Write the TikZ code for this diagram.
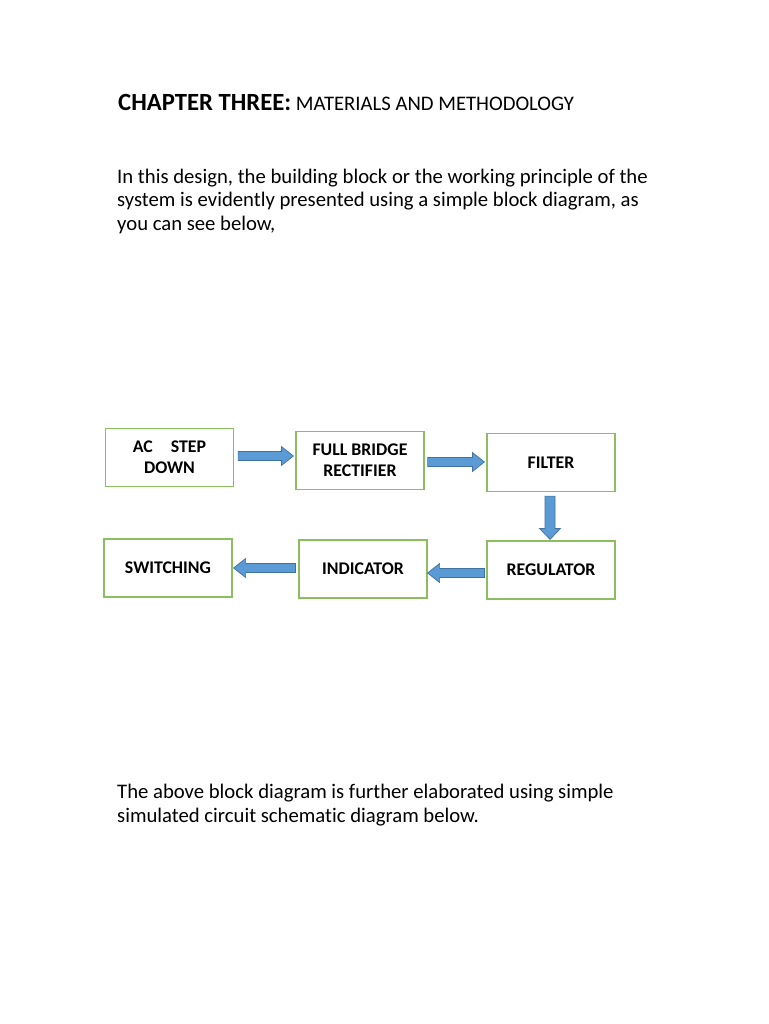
\documentclass[tikz,border=0pt]{standalone}
\usepackage{fontspec}
\setmainfont{Carlito}[Ligatures=NoCommon]
\usetikzlibrary{calc}
\definecolor{boxedge}{RGB}{140,190,95}
\definecolor{arrowfill}{RGB}{91,155,213}
\definecolor{arrowedge}{RGB}{65,113,156}
\tikzset{
  blockbox/.style={draw=boxedge, line width=1.2pt, fill=white, minimum width=128pt, minimum height=58pt,
    inner sep=0pt, align=center, font=\fontsize{17.8}{21}\selectfont\bfseries},
  bodytext/.style={anchor=base west, inner sep=0pt, font=\fontsize{20.7}{24}\selectfont},
  arrowstyle/.style={draw=arrowedge, fill=arrowfill, line width=0.7pt, line join=miter}
}
\newcommand\blkarrow[5]{% start, end, half shaft, half head, head length
  \filldraw[arrowstyle]
    ($(#1)!#3!90:(#2)$) --
    ($($(#2)!#5!(#1)$)!#3!90:(#2)$) --
    ($($(#2)!#5!(#1)$)!#4!90:(#2)$) --
    (#2) --
    ($($(#2)!#5!(#1)$)!#4!-90:(#2)$) --
    ($($(#2)!#5!(#1)$)!#3!-90:(#2)$) --
    ($(#1)!#3!-90:(#2)$) -- cycle;}
\begin{document}
\begin{tikzpicture}[x=1pt,y=-1pt]
\fill[white] (0,0) rectangle (768,1024);
\useasboundingbox (0,0) rectangle (768,1024);

\node[bodytext] (title) at (118,111) {{\fontsize{24.7}{29}\selectfont\bfseries CHAPTER THREE:} MATERIALS AND METHODOLOGY};

\node[bodytext] (p1a) at (117,183.5) {In this design, the building block or the working principle of the};
\node[bodytext] (p1b) at (117,207) {system is evidently presented using a simple block diagram, as};
\node[bodytext] (p1c) at (117,230.5) {you can see below,};

\node[blockbox] (ac) at (169.5,457.5) {AC\hspace{18pt}STEP\\DOWN};
\node[blockbox] (fb) at (360,460.5) {FULL BRIDGE\\RECTIFIER};
\node[blockbox] (fi) at (551,462.5) {FILTER};
\node[blockbox] (sw) at (168,568) {SWITCHING};
\node[blockbox] (in) at (363,569) {INDICATOR};
\node[blockbox] (re) at (551,570) {REGULATOR};

\coordinate (a1s) at ($(ac.east)+(4,-1.5)$);
\coordinate (a1e) at ($(fb.west)+(-2,-4.5)$);
\coordinate (a2s) at ($(fb.east)+(3,1.5)$);
\coordinate (a2e) at ($(fi.west)+(-2,-0.5)$);
\coordinate (a3s) at ($(fi.south)+(-1,4)$);
\coordinate (a3e) at ($(re.north)+(-1,-1)$);
\coordinate (a4s) at ($(re.west)+(-2,3)$);
\coordinate (a4e) at ($(in.east)+(0,4)$);
\coordinate (a5s) at ($(in.west)+(-3,-1)$);
\coordinate (a5e) at ($(sw.east)+(1,0)$);

\blkarrow{a1s}{a1e}{4.5pt}{9.5pt}{12pt}
\blkarrow{a2s}{a2e}{4.5pt}{9.5pt}{12pt}
\blkarrow{a3s}{a3e}{5pt}{10.5pt}{11pt}
\blkarrow{a4s}{a4e}{4.5pt}{9.5pt}{12pt}
\blkarrow{a5s}{a5e}{4.5pt}{9.5pt}{12pt}

\node[bodytext] (p2a) at (117,798) {The above block diagram is further elaborated using simple};
\node[bodytext] (p2b) at (117,822) {simulated circuit schematic diagram below.};
\end{tikzpicture}
\end{document}
